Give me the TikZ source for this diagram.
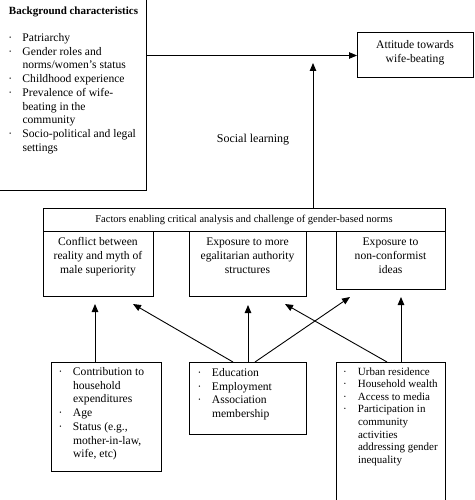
\documentclass[tikz,border=0pt]{standalone}
\usepackage{fontspec}
\setmainfont{Liberation Serif}
\usetikzlibrary{arrows.meta,calc}
\newlength\bulw
\newcommand\bli{\makebox[\bulw][l]{·}}
\newcommand\bcont{\hspace*{\bulw}}
\begin{document}
\begin{tikzpicture}[x=1pt,y=1pt,
  box/.style={draw, line width=1pt, anchor=north west, inner sep=0pt, outer sep=0pt},
  txt/.style={inner sep=0pt, outer sep=0pt},
  listtxt/.style={txt, anchor=base west, align=left},
  ctxt/.style={txt, anchor=base, align=center},
  arr/.style={line width=0.9pt, -{Triangle[length=8pt,width=6.5pt]}},
  ]
\useasboundingbox (0,0) rectangle (474,-500);

% boxes
\node[box, minimum width=151pt, minimum height=195pt] (bg) at (-5,5) {};
\node[box, minimum width=116pt, minimum height=45pt] (att) at (357,-33) {};
\node[box, minimum width=402pt, minimum height=23pt] (hdr) at (43,-208) {};
\node[box, minimum width=110pt, minimum height=65pt] (s1) at (43,-231) {};
\node[box, minimum width=117pt, minimum height=65pt] (s2) at (189,-231) {};
\node[box, minimum width=109pt, minimum height=58pt] (s3) at (336,-231) {};
\node[box, minimum width=110pt, minimum height=109pt] (ba) at (51,-362) {};
\node[box, minimum width=117pt, minimum height=72pt] (bb) at (189,-362) {};
\node[box, minimum width=109pt, minimum height=150pt] (bc) at (336,-362) {};

% texts (anchor base = baseline of the last line)
\node[listtxt, font=\fontsize{11}{13}\selectfont\bfseries] (bgt) at (9,-15) {Background characteristics};
\node[listtxt, font={\fontsize{11.6}{13.7}\selectfont\setlength\bulw{14pt}}] (bgl) at (8.5,-151.1)
 {\bli Patriarchy\\
  \bli Gender roles and\\
  \bcont norms/women’s status\\
  \bli Childhood experience\\
  \bli Prevalence of wife-\\
  \bcont beating in the\\
  \bcont community\\
  \bli Socio-political and legal\\
  \bcont settings};
\node[ctxt, font=\fontsize{11.6}{14}\selectfont] (attt) at ($(att.north)+(0,-29.5)$)
 {Attitude towards\\wife-beating};
\node[ctxt, font=\fontsize{12}{14}\selectfont] (slt) at (253,-142.5) {Social learning};
\node[ctxt, font=\fontsize{10.5}{12}\selectfont] (hdrt) at ($(hdr.north)+(0,-14.5)$)
 {Factors enabling critical analysis and challenge of gender-based norms};
\node[ctxt, font=\fontsize{11.6}{14}\selectfont] (s1t) at ($(s1.north)+(0,-42)$)
 {Conflict between\\reality and myth of\\male superiority};
\node[ctxt, font=\fontsize{11.6}{14}\selectfont] (s2t) at ($(s2.north)+(0,-42)$)
 {Exposure to more\\egalitarian authority\\structures};
\node[ctxt, font=\fontsize{11.6}{14}\selectfont] (s3t) at ($(s3.north)+(0,-42)$)
 {Exposure to\\non-conformist\\ideas};
\node[listtxt, font={\fontsize{11.6}{13.7}\selectfont\setlength\bulw{14.5pt}}] (bat) at (58.5,-457.7)
 {\bli Contribution to\\
  \bcont household\\
  \bcont expenditures\\
  \bli Age\\
  \bli Status (e.g.,\\
  \bcont mother-in-law,\\
  \bcont wife, etc)};
\node[listtxt, font={\fontsize{11.6}{13.5}\selectfont\setlength\bulw{14.5pt}}] (bbt) at (197.5,-417)
 {\bli Education\\
  \bli Employment\\
  \bli Association\\
  \bcont membership};
\node[listtxt, font={\fontsize{11}{12.6}\selectfont\setlength\bulw{15pt}}] (bct) at (343,-463.2)
 {\bli Urban residence\\
  \bli Household wealth\\
  \bli Access to media\\
  \bli Participation in\\
  \bcont community\\
  \bcont activities\\
  \bcont addressing gender\\
  \bcont inequality};

% connectors
\coordinate (sl) at (313,-63);
\draw[arr] (att.west -| bg.east) -- (att.west);
\draw[arr] (hdr.north -| sl) -- (sl);
\draw[arr] ($(ba.north west)+(44,0)$) -- ($(s1.south west)+(52,-8)$);
\draw[arr] ($(bb.north west)+(44,0)$) -- ($(s1.south east)+(-20,-8)$);
\draw[arr] ($(bb.north west)+(59,0)$) -- ($(s2.south west)+(59,-9)$);
\draw[arr] ($(bb.north west)+(66,0)$) -- ($(s3.south west)+(14,-8)$);
\draw[arr] ($(bc.north west)+(51,0)$) -- ($(s2.south east)+(-21,-8)$);
\draw[arr] ($(bc.north west)+(65,0)$) -- ($(s3.south west)+(65,-8)$);
\end{tikzpicture}
\end{document}
